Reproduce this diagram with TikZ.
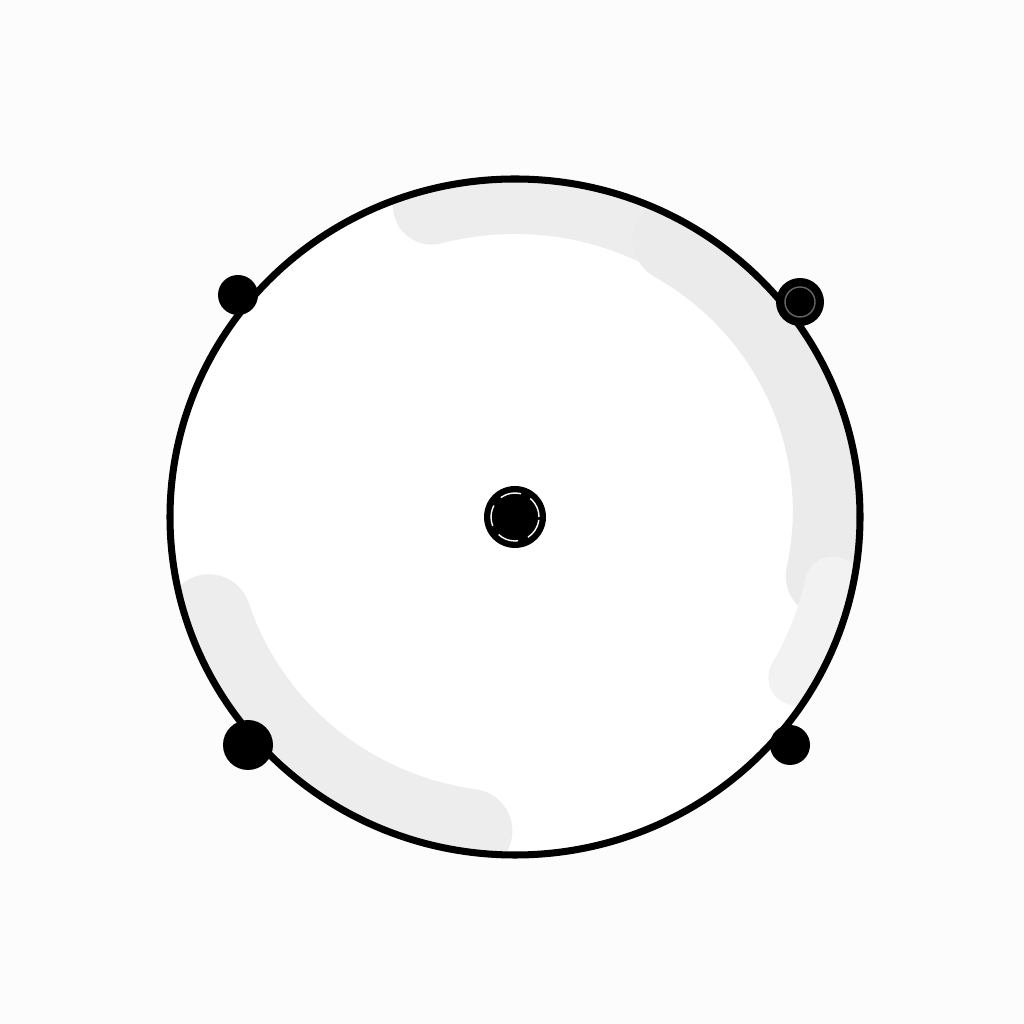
\documentclass[tikz,border=0pt]{standalone}
\usepackage{tikz}
\usetikzlibrary{calc}

\begin{document}
\begin{tikzpicture}[x=0.01cm,y=0.01cm]
                    \fill[black!1] (0,0) rectangle (1024,1024);
                    \useasboundingbox (0,0) rectangle (1024,1024);
                    \coordinate (O) at (515,507);
                    \coordinate (P1) at (238,729);
                    \coordinate (P2) at (800,722);
                    \coordinate (P3) at (248,279);
                    \coordinate (P4) at (790,279);

                    \fill[white] (O) ellipse [x radius=345, y radius=338];
                    % shading along the rim
                    \begin{scope}
                    \clip (O) ellipse [x radius=343, y radius=336];
                    \draw[black!7, line width=22pt, line cap=round] ($(O)+(105:322)$) arc [start angle=105, end angle=60, x radius=322, y radius=315];
                    \draw[black!8, line width=24pt, line cap=round] ($(O)+(60:320)$) arc [start angle=60, end angle=-12, x radius=320, y radius=313];
                    \draw[black!5, line width=16pt, line cap=round] ($(O)+(-12:325)$) arc [start angle=-12, end angle=-30, x radius=325, y radius=318];
                    \draw[black!7, line width=24pt, line cap=round] ($(O)+(198:322)$) arc [start angle=198, end angle=262, x radius=322, y radius=315];
                    \end{scope}
                    \draw[line width=2pt] (O) ellipse [x radius=345, y radius=338];

                    \fill (O) circle (31);
                    \draw[white, line width=0.4pt, dash pattern=on 6pt off 3pt] (O) circle (24);
                    \fill (P1) circle (20);
                    \fill (P2) circle (24);
                    \draw[black!60, line width=0.4pt] (P2) circle (15);
                    \fill (P3) circle (25);
                    \fill (P4) circle (20);
                \end{tikzpicture}
\end{document}
